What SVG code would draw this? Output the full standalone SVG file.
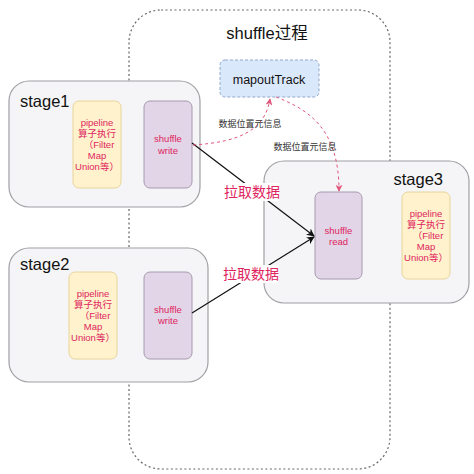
<svg xmlns="http://www.w3.org/2000/svg" width="474" height="474" viewBox="0 0 474 474">
<style>
text{font-family:"Liberation Sans","Noto Sans CJK SC",sans-serif}
.stage{fill:#f5f5f7;stroke:#a0a0a6;stroke-width:1.2}
.pipe{fill:#fff2cc;stroke:#e8d49a;stroke-width:1}
.sh{fill:#e1d5e7;stroke:#a79ab0;stroke-width:1}
.red{fill:#e0245e;font-size:9.5px;text-anchor:middle}
.title{fill:#111;font-size:16.5px}
.lbl{fill:#e0245e;font-size:14px;text-anchor:middle}
.meta{fill:#333;font-size:9px;text-anchor:middle}
.blk{stroke:#111;stroke-width:1.2;fill:none}
.dash{stroke:#e0557a;stroke-width:1;stroke-dasharray:3 3;fill:none}
</style>
<defs>
<marker id="ab" viewBox="0 0 10 10" refX="9" refY="5" markerWidth="8" markerHeight="8" orient="auto" markerUnits="userSpaceOnUse"><path d="M0,0 L10,5 L0,10 L3,5 z" fill="#111"/></marker>
<marker id="ar" viewBox="0 0 10 10" refX="9" refY="5" markerWidth="7" markerHeight="7" orient="auto" markerUnits="userSpaceOnUse"><path d="M0,0 L10,5 L0,10 L3,5 z" fill="#e0557a"/></marker>
</defs>
<rect width="474" height="474" fill="#fff"/>
<g id="shuffle-area">
<rect x="129" y="10" width="261" height="459" rx="32" fill="none" stroke="#666" stroke-width="1.2" stroke-dasharray="2 2.5"/>
<text x="267" y="39" class="title" text-anchor="middle">shuffle过程</text>
</g>
<g id="mapoutTrack">
<rect x="220" y="60" width="99" height="37" rx="5" fill="#dae8fc" stroke="#8fa8cc" stroke-dasharray="3 2"/>
<text x="269" y="84" font-size="12.5" text-anchor="middle" fill="#111">mapoutTrack</text>
</g>
<g id="stage1">
<rect x="9" y="81" width="191" height="126" rx="20" class="stage"/>
<text x="20" y="107" class="title">stage1</text>
<rect x="73" y="101" width="48" height="87" rx="6" class="pipe"/>
<text class="red"><tspan x="97" y="126">pipeline</tspan><tspan x="97" y="137">算子执行</tspan><tspan x="99" y="148">（Filter</tspan><tspan x="97" y="159">Map</tspan><tspan x="97" y="170">Union等）</tspan></text>
<rect x="144" y="101" width="48" height="87" rx="6" class="sh"/>
<text class="red"><tspan x="168" y="142">shuffle</tspan><tspan x="168" y="154">write</tspan></text>
</g>
<g id="stage2">
<rect x="9" y="248" width="199" height="134" rx="20" class="stage"/>
<text x="20" y="270" class="title">stage2</text>
<rect x="69" y="272" width="48" height="87" rx="6" class="pipe"/>
<text class="red"><tspan x="93" y="297">pipeline</tspan><tspan x="93" y="308">算子执行</tspan><tspan x="95" y="319">（Filter</tspan><tspan x="93" y="330">Map</tspan><tspan x="93" y="341">Union等）</tspan></text>
<rect x="144" y="272" width="48" height="87" rx="6" class="sh"/>
<text class="red"><tspan x="168" y="313">shuffle</tspan><tspan x="168" y="324">write</tspan></text>
</g>
<g id="stage3">
<rect x="264" y="161" width="205" height="142" rx="20" class="stage"/>
<text x="443" y="185" class="title" text-anchor="end">stage3</text>
<rect x="315" y="192" width="47" height="87" rx="6" class="sh"/>
<text class="red"><tspan x="338.5" y="234">shuffle</tspan><tspan x="338.5" y="245">read</tspan></text>
<rect x="402" y="192" width="48" height="87" rx="6" class="pipe"/>
<text class="red"><tspan x="426" y="217">pipeline</tspan><tspan x="426" y="228">算子执行</tspan><tspan x="428" y="239">（Filter</tspan><tspan x="426" y="250">Map</tspan><tspan x="426" y="261">Union等）</tspan></text>
</g>
<g id="connectors">
<path d="M192,143 L314,236" class="blk" marker-end="url(#ab)"/>
<path d="M192,313 L314,237" class="blk" marker-end="url(#ab)"/>
<rect x="226" y="183" width="53" height="18" fill="#fff"/>
<text x="252" y="197" class="lbl">拉取数据</text>
<rect x="225" y="265" width="53" height="18" fill="#fff"/>
<text x="251" y="279" class="lbl">拉取数据</text>
<path d="M193,145 C240,142 265,130 270,99" class="dash" marker-end="url(#ar)"/>
<path d="M276,97 C310,110 339,130 339,191" class="dash" marker-end="url(#ar)"/>
<text x="250" y="127" class="meta">数据位置元信息</text>
<text x="305" y="150" class="meta">数据位置元信息</text>
</g>
</svg>
